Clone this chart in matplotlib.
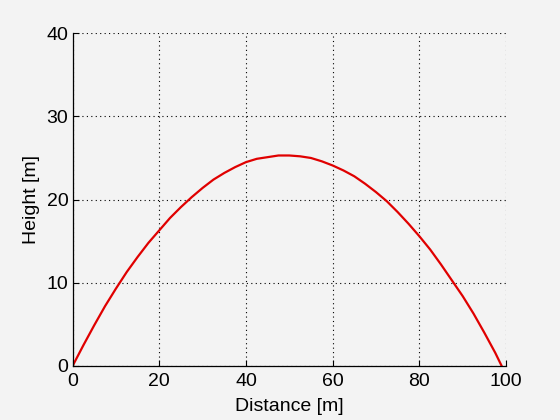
import matplotlib
matplotlib.use('Agg')
import matplotlib.pyplot as plt

# trajectory
distance = [0, 2.5, 5, 7.5, 10, 12.5, 15, 17.5, 20, 22.5, 25, 27.5, 30, 32.5, 35, 37.5,
            40, 42.5, 45, 47.5, 50, 52.5, 55, 57.5, 60, 62.5, 65, 67.5, 70, 72.5, 75,
            77.5, 80, 82.5, 85, 87.5, 90, 92.5, 95, 97.5, 99]
height = [0, 2.5, 4.9, 7.2, 9.3, 11.3, 13.1, 14.8, 16.3, 17.8, 19.1, 20.3, 21.4, 22.4, 23.2, 23.9,
          24.5, 24.9, 25.1, 25.3, 25.3, 25.2, 25.0, 24.6, 24.1, 23.5, 22.8, 21.9, 20.9, 19.8, 18.5,
          17.1, 15.6, 14.0, 12.2, 10.3, 8.4, 6.3, 4.0, 1.6, 0]

x_ticks = [0, 20, 40, 60, 80, 100]
y_ticks = [0, 10, 20, 30, 40]

plt.rcParams['font.family'] = ['Liberation Sans', 'DejaVu Sans']
bg = '#f3f3f3'

fig = plt.figure(figsize=(5.6, 4.2), dpi=100, facecolor=bg)
ax = fig.add_axes([0.1296, 0.1286, 0.774, 0.7924], facecolor=bg)

ax.plot(distance, height, color='#e00000', lw=1.6)

ax.set_xlim(0, 100)
ax.set_ylim(0, 40)
ax.set_xticks(x_ticks)
ax.set_yticks(y_ticks)
ax.grid(True, color='black', linestyle=(0, (1, 3)), linewidth=0.8)
ax.tick_params(direction='in', length=4, width=0.8, labelsize=14)
ax.tick_params(axis='x', pad=5)
ax.tick_params(axis='y', pad=3)

ax.spines['top'].set_visible(False)
ax.spines['right'].set_visible(False)
ax.spines['left'].set_linewidth(0.9)
ax.spines['bottom'].set_linewidth(0.9)

ax.set_xlabel('Distance [m]', fontsize=14, labelpad=6)
ax.set_ylabel('Height [m]', fontsize=14, labelpad=5)

fig.savefig('out.png', dpi=100, facecolor=bg)
